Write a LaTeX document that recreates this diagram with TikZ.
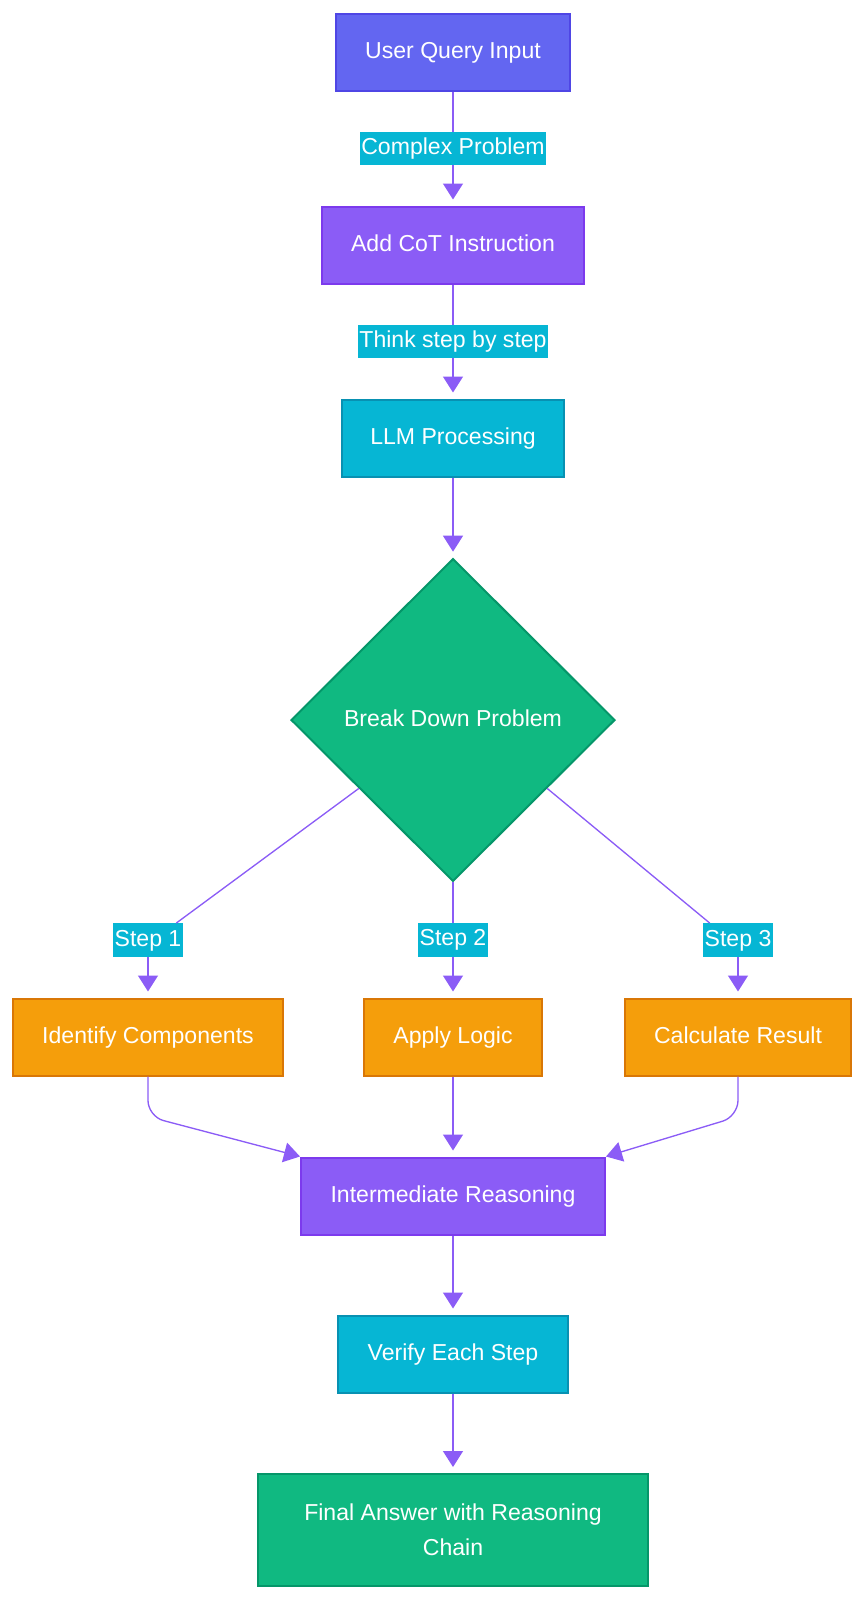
\documentclass[tikz,border=0pt]{standalone}
\usepackage{fontspec}
\setmainfont{Liberation Sans}
\usetikzlibrary{arrows.meta,positioning,shapes.geometric}

\definecolor{indigoF}{HTML}{6366F1}
\definecolor{indigoD}{HTML}{4F46E5}
\definecolor{violetF}{HTML}{8B5CF6}
\definecolor{violetD}{HTML}{7C3AED}
\definecolor{cyanF}{HTML}{06B6D4}
\definecolor{cyanD}{HTML}{0891B2}
\definecolor{greenF}{HTML}{10B981}
\definecolor{greenD}{HTML}{059669}
\definecolor{amberF}{HTML}{F59E0B}
\definecolor{amberD}{HTML}{D97706}

\begin{document}
\begin{tikzpicture}[x=0.75pt, y=-0.75pt, font=\fontsize{17.3}{26}\selectfont,
  base/.style={draw, line width=1.5pt, text=white, minimum height=57.75pt, align=center},
  box/.style={base, text height=12.5pt, text depth=3.5pt},
  lbl/.style={fill=cyanF, text=white, inner xsep=1pt, inner ysep=4.5pt, text height=12.5pt, text depth=3.5pt},
  flow/.style={draw=violetF, line width=1pt, -{Triangle[length=12pt,width=15pt]}, shorten >=4.5pt}]
\useasboundingbox (0,0) rectangle (860,1600);
% main column
\node[box, fill=indigoF, draw=indigoD, minimum width=175.5pt] (query) at (453,52) {User Query Input};
\node[box, fill=violetF, draw=violetD, minimum width=196.5pt] (cot) at (453,245) {Add CoT Instruction};
\node[box, fill=cyanF, draw=cyanD, minimum width=166pt] (llm) at (453,438) {LLM Processing};
\node[box, diamond, aspect=1, fill=greenF, draw=greenD, minimum width=243pt, minimum height=242pt] (brk) at (453,720) {Break Down Problem};
% the three steps
\node[box, fill=amberF, draw=amberD, minimum width=203pt] (ident) at (148,1037) {Identify Components};
\node[box, fill=amberF, draw=amberD, minimum width=133pt] (apply) at (453,1037) {Apply Logic};
\node[box, fill=amberF, draw=amberD, minimum width=170pt] (calc) at (738,1037) {Calculate Result};
\node[box, fill=violetF, draw=violetD, minimum width=228pt] (inter) at (453,1196) {Intermediate Reasoning};
\node[box, fill=cyanF, draw=cyanD, minimum width=172pt] (verify) at (453,1354) {Verify Each Step};
\node[base, fill=greenF, draw=greenD, minimum width=292pt, minimum height=84pt] (final) at (453,1530) {Final Answer with Reasoning\\Chain};
% edges
\draw[flow] (query) -- node[lbl] (lcomplex) {Complex Problem} (cot);
\draw[flow] (cot) -- node[lbl] (lthink) {Think step by step} (llm);
\draw[flow] (llm) -- (brk);
\node[lbl] (s1) at (148,940) {Step 1};
\node[lbl] (s3) at (738,940) {Step 3};
\draw[violetF, line width=1pt] (brk.-144) -- ([xshift=-5pt]s1.north east);
\draw[flow] (s1) -- (ident);
\draw[flow] (brk) -- node[lbl] (s2) {Step 2} (apply);
\draw[violetF, line width=1pt] (brk.-36) -- ([xshift=5pt]s3.north west);
\draw[flow] (s3) -- (calc);
% merge into reasoning
\draw[flow, shorten >=0pt, rounded corners=12pt] (ident.south) -- ++(0,40) -- (inter.north west);
\draw[flow] (apply) -- (inter);
\draw[flow, shorten >=0pt, rounded corners=12pt] (calc.south) -- ++(0,40) -- (inter.north east);
\draw[flow] (inter) -- (verify);
\draw[flow] (verify) -- (final);
\end{tikzpicture}
\end{document}
